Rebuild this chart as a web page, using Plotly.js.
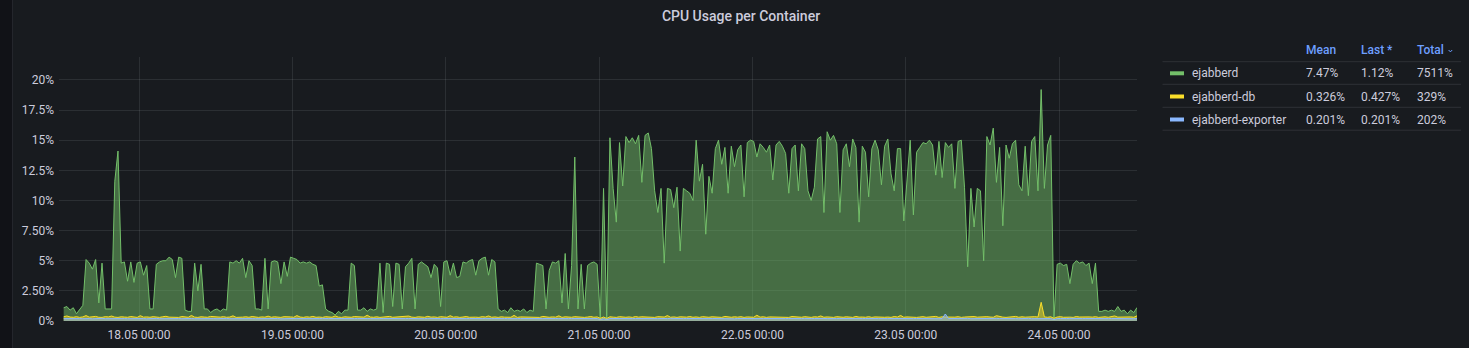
<!DOCTYPE html>
<html>
<head>
<meta charset="utf-8">
<script src="https://cdn.plot.ly/plotly-3.0.1.min.js"></script>
<style>
  html, body { margin:0; padding:0; background:#111217; width:1469px; height:348px; overflow:hidden; }
  #panel { position:absolute; left:12px; top:0; width:1456px; height:348px; background:#181b1f; border-left:1px solid #24262c; }
  #chart { width:1456px; height:348px; }
</style>
</head>
<body>
<div id="panel"><div id="chart"></div></div>
<script>
// ---- data ----
const START = '2023-05-17T12:12:00';
const STEP_MINUTES = 30;
const seriesNames = ['ejabberd', 'ejabberd-db', 'ejabberd-exporter'];
const seriesColors = ['#73bf69', '#fade2a', '#8ab8ff'];
const seriesFills = ['rgba(115,191,105,0.5)', 'rgba(250,222,42,0.5)', 'rgba(138,184,255,0.5)'];

const ejabberd = [
1.1,1.2,0.9,1.1,0.6,1.0,1.3,5.1,4.8,4.3,
5.1,1.5,4.8,1.0,1.0,1.0,11.6,14.1,4.8,4.9,
3.3,4.9,3.2,4.8,4.9,3.8,4.6,1.0,1.0,4.7,
4.9,5.0,5.0,5.3,5.1,3.6,5.3,5.2,0.9,0.8,
0.8,4.8,2.5,4.7,1.0,1.0,0.7,0.9,1.0,0.8,
1.0,0.9,4.9,4.8,5.0,4.8,5.2,3.6,5.0,4.6,
1.0,1.0,0.9,5.2,1.0,4.9,5.0,4.9,3.1,4.9,
3.7,5.3,5.2,5.1,4.8,4.9,4.8,4.9,4.7,4.6,
2.9,3.0,1.0,0.8,0.7,0.5,0.8,0.6,0.9,0.9,
4.8,4.6,0.9,0.9,1.1,0.8,1.0,0.9,1.0,4.8,
0.7,4.8,4.7,1.2,4.8,4.7,1.0,4.5,4.8,5.2,
1.0,4.7,4.9,4.7,4.5,3.6,4.7,4.4,1.2,4.9,
5.0,3.8,4.8,3.6,3.7,4.9,4.8,5.0,5.1,3.8,
5.0,5.2,5.3,3.8,5.1,4.9,1.0,0.8,0.9,0.7,
1.1,0.8,0.9,0.8,1.0,0.7,0.9,0.8,4.8,4.7,
4.6,1.0,4.2,4.9,4.8,5.0,1.5,5.6,1.0,4.6,
13.6,1.0,4.7,1.0,4.6,4.8,4.9,4.7,0.2,11.0,
0.2,15.2,11.0,8.2,14.8,11.2,15.3,14.8,15.2,14.7,
15.4,11.5,15.4,15.6,14.3,10.8,9.0,11.0,4.8,11.0,
10.9,9.4,11.1,5.8,11.0,10.8,10.6,10.0,15.0,11.6,
13.0,7.2,12.0,10.6,14.3,15.0,13.0,14.4,10.6,14.5,
12.8,14.2,14.6,10.3,14.8,15.0,14.9,13.6,14.7,14.4,
14.0,14.6,11.7,14.6,14.9,14.5,13.9,10.6,14.3,14.6,
10.8,14.7,14.3,10.8,10.0,11.1,15.1,15.3,9.0,15.7,
15.0,15.4,14.7,9.0,14.2,14.7,12.8,15.1,14.4,8.2,
14.5,14.0,10.3,14.3,15.0,14.2,11.3,14.5,15.1,12.2,
10.8,14.3,14.3,8.3,11.7,15.0,8.8,14.0,14.4,14.8,
14.7,15.0,14.6,12.1,14.9,11.9,14.8,14.4,14.7,11.0,
14.9,15.0,11.1,4.5,11.0,7.8,11.0,10.8,5.0,15.3,
14.6,16.0,11.5,14.4,7.9,14.6,13.5,14.7,15.0,11.3,
10.8,14.5,10.4,14.9,15.3,10.8,19.2,11.0,14.6,15.4,
0.2,4.7,4.8,4.6,4.7,3.1,4.7,5.0,4.8,4.9,
4.6,4.8,3.1,4.8,0.8,0.8,0.9,0.8,0.9,0.8,
1.2,0.8,0.9,0.6,0.9,0.7,1.12
];

const ejabberdDb = [
.35,.42,.33,.31,.36,.30,.34,.45,.32,.33,.38,.31,.30,.36,.34,.41,.32,.30,.35,.33,
.31,.37,.33,.30,.44,.32,.34,.31,.36,.33,.30,.35,.39,.32,.31,.34,.30,.37,.33,.31,
.46,.32,.30,.35,.33,.31,.38,.34,.30,.32,.36,.31,.33,.43,.30,.34,.32,.35,.31,.37,
.33,.30,.34,.32,.40,.31,.35,.33,.30,.36,.32,.34,.31,.45,.33,.30,.35,.32,.38,.31,
.33,.30,.36,.34,.31,.42,.32,.30,.35,.33,.31,.37,.34,.30,.32,.48,.33,.31,.35,.30,
.34,.32,.38,.31,.33,.30,.36,.34,.41,.32,.30,.35,.33,.31,.39,.32,.34,.30,.36,.33,
.31,.44,.32,.35,.30,.33,.37,.31,.34,.32,.30,.36,.33,.42,.31,.34,.30,.35,.32,.33,
.31,.47,.30,.34,.33,.36,.31,.32,.35,.30,.38,.33,.31,.34,.32,.43,.30,.35,.33,.31,
.36,.32,.34,.30,.33,.37,.31,.34,.22,.33,.21,.35,.32,.30,.36,.33,.31,.34,.30,.37,
.32,.35,.33,.31,.34,.30,.36,.32,.33,.45,.31,.34,.30,.35,.33,.32,.37,.31,.34,.30,
.36,.33,.31,.35,.32,.34,.30,.38,.33,.31,.35,.32,.36,.30,.34,.33,.31,.48,.32,.35,
.30,.34,.33,.36,.31,.32,.35,.30,.37,.33,.34,.31,.36,.32,.30,.35,.33,.42,.31,.34,
.32,.30,.36,.33,.31,.35,.34,.30,.38,.32,.33,.31,.36,.30,.34,.32,.35,.31,.33,.30,
.37,.33,.46,.31,.34,.32,.35,.30,.33,.36,.31,.34,.32,.38,.30,.35,.33,.31,.34,.32,
.36,.30,.33,.35,.31,.37,.32,.34,.30,.36,.33,.31,.44,.35,.32,.30,.34,.33,.38,.31,
.35,.32,.34,.30,.36,.33,1.55,.34,.31,.35,.22,.33,.36,.31,.34,.32,.30,.37,.33,.35,
.31,.34,.32,.36,.30,.33,.35,.31,.34,.42,.32,.33,.30,.36,.34,.31,.43
];

const ejabberdExporter = [
.20,.21,.19,.20,.22,.20,.19,.21,.20,.18,.21,.20,.22,.19,.20,.21,.20,.19,.21,.20,
.19,.20,.22,.21,.19,.20,.18,.21,.20,.22,.19,.20,.21,.19,.20,.22,.20,.19,.21,.20,
.21,.19,.20,.22,.20,.18,.21,.20,.19,.21,.20,.22,.19,.20,.21,.20,.19,.21,.22,.20,
.19,.20,.21,.20,.22,.19,.20,.21,.18,.20,.21,.19,.20,.22,.20,.19,.21,.20,.19,.21,
.20,.22,.19,.20,.21,.20,.19,.21,.20,.22,.18,.20,.21,.19,.20,.21,.20,.22,.19,.20,
.21,.20,.19,.21,.20,.22,.19,.20,.21,.20,.18,.21,.20,.19,.22,.20,.21,.19,.20,.21,
.20,.19,.21,.22,.20,.19,.20,.21,.20,.18,.21,.20,.22,.19,.20,.21,.19,.20,.21,.20,
.22,.19,.20,.21,.20,.19,.21,.20,.22,.18,.20,.21,.19,.20,.21,.20,.22,.19,.20,.21,
.20,.19,.21,.20,.22,.19,.20,.21,.12,.20,.12,.21,.20,.19,.22,.20,.21,.19,.20,.21,
.20,.22,.19,.20,.21,.18,.20,.21,.19,.20,.22,.20,.21,.19,.20,.21,.20,.19,.22,.20,
.21,.19,.20,.21,.20,.22,.19,.20,.21,.20,.18,.21,.20,.19,.22,.20,.21,.19,.20,.21,
.20,.19,.21,.22,.20,.19,.20,.21,.20,.18,.21,.20,.22,.19,.20,.21,.19,.20,.21,.20,
.22,.19,.20,.21,.20,.19,.21,.20,.22,.18,.20,.21,.19,.20,.21,.20,.22,.19,.20,.21,
.20,.19,.21,.20,.22,.19,.20,.21,.20,.22,.19,.20,.21,.20,.19,.21,.58,.20,.21,.19,
.20,.21,.20,.22,.19,.20,.21,.18,.20,.21,.19,.20,.22,.20,.21,.19,.20,.21,.20,.19,
.21,.20,.22,.19,.20,.21,.20,.19,.21,.20,.12,.20,.21,.19,.20,.22,.20,.21,.19,.20,
.21,.20,.19,.22,.20,.21,.19,.20,.21,.20,.22,.19,.20,.21,.20,.19,.20
];

const yTickVals = [0, 2.5, 5, 7.5, 10, 12.5, 15, 17.5, 20];
const yTickText = ['0%', '2.50%', '5%', '7.50%', '10%', '12.5%', '15%', '17.5%', '20%'];
const legendMean = ['7.47%', '0.326%', '0.201%'];
const legendLast = ['1.12%', '0.427%', '0.201%'];
const legendTotal = ['7511%', '329%', '202%'];
const legendHeaders = ['Mean', 'Last *', 'Total'];

// ---- build ----
function timesFor(n) {
  const t0 = new Date(START + 'Z').getTime();
  const out = [];
  for (let i = 0; i < n; i++) {
    const d = new Date(t0 + i * STEP_MINUTES * 60000);
    out.push(d.toISOString().slice(0, 19).replace('T', ' '));
  }
  return out;
}
const allSeries = [ejabberd, ejabberdDb, ejabberdExporter];
const traces = allSeries.map((vals, k) => ({
  type: 'scatter', mode: 'lines',
  x: timesFor(vals.length), y: vals,
  name: seriesNames[k],
  line: { color: seriesColors[k], width: 1 },
  fill: 'tozeroy', fillcolor: seriesFills[k],
  hoverinfo: 'skip'
}));

const W = 1456, H = 348;
const M = { l: 46, r: 332, t: 57, b: 27 };
const PW = W - M.l - M.r, PH = H - M.t - M.b;
const OFF = 13; // page x of div content
const px = x => (x - OFF - M.l) / PW;
const py = y => 1 - (y - M.t) / PH;

const FAM = 'Roboto, Inter, sans-serif';
const textCol = '#ccccdc';
const fontBase = { family: FAM, size: 12, color: textCol };
const annotations = [];
const shapes = [];

const headerX = [1303.5, 1359, 1415];
legendHeaders.forEach((h, j) => annotations.push({
  xref: 'paper', yref: 'paper', x: px(headerX[j]) , y: py(50.5),
  xanchor: 'left', yanchor: 'middle', showarrow: false, text: h,
  font: { family: FAM, size: 12, color: '#6e9fff', weight: 500 }
}));
// chevron next to Total
shapes.push({ type: 'path', xref: 'paper', yref: 'paper',
  path: `M ${px(1448.6)} ${py(50)} L ${px(1450.4)} ${py(51.9)} L ${px(1452.2)} ${py(50)}`,
  line: { color: '#6e9fff', width: 1 } });

const sepY = [61.7, 84.3, 107.3, 130.2];
sepY.forEach(y => shapes.push({ type: 'line', xref: 'paper', yref: 'paper',
  x0: px(1162.5), x1: px(1461), y0: py(y), y1: py(y),
  line: { color: 'rgba(204,204,220,0.12)', width: 1 } }));

const rowY = [73.3, 96.5, 119.5];
seriesNames.forEach((n, k) => {
  shapes.push({ type: 'rect', xref: 'paper', yref: 'paper',
    x0: px(1170), x1: px(1184), y0: py(rowY[k] - 2), y1: py(rowY[k] + 2),
    fillcolor: seriesColors[k], line: { width: 0 } });
  const cells = [[1189.5, n], [1303.5, legendMean[k]], [1359, legendLast[k]], [1415, legendTotal[k]]];
  cells.forEach(([x, t]) => annotations.push({
    xref: 'paper', yref: 'paper', x: px(x), y: py(rowY[k]),
    xanchor: 'left', yanchor: 'middle', showarrow: false, text: t, font: fontBase
  }));
});

const layout = {
  width: W, height: H, margin: M,
  paper_bgcolor: '#181b1f', plot_bgcolor: '#181b1f',
  showlegend: false, hovermode: false,
  title: { text: 'CPU Usage per Container', x: 0.5, xanchor: 'center', y: 1 - 16 / H, yanchor: 'middle',
    font: { family: FAM, size: 14, color: textCol, weight: 500 } },
  xaxis: {
    type: 'date', range: ['2023-05-17 11:28', '2023-05-24 12:12'],
    tick0: '2023-05-18 00:00', dtick: 86400000, tickformat: '%d.%m %H:%M',
    showgrid: true, gridcolor: 'rgba(240,250,255,0.09)', gridwidth: 1,
    zeroline: false, showline: false, ticks: '', ticklabelstandoff: 5,
    tickfont: fontBase, fixedrange: true
  },
  yaxis: {
    range: [0, 21.9], tickvals: yTickVals, ticktext: yTickText,
    showgrid: true, gridcolor: 'rgba(240,250,255,0.09)', gridwidth: 1,
    zeroline: false, showline: false, ticks: '', ticklabelstandoff: 4,
    tickfont: fontBase, fixedrange: true
  },
  annotations, shapes
};
Plotly.newPlot('chart', traces, layout, { displayModeBar: false, staticPlot: true });
</script>
</body>
</html>
